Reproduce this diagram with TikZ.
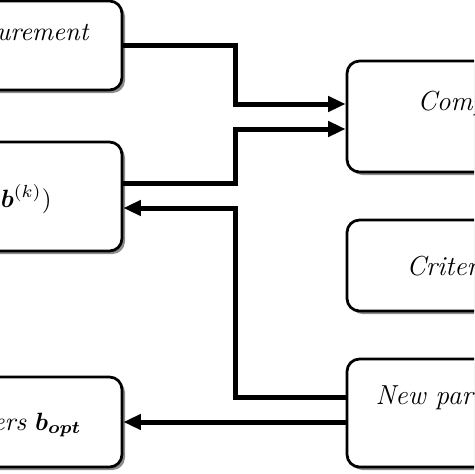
\documentclass[tikz,border=0pt]{standalone}
\usepackage{amsmath,amssymb,bm}
\usetikzlibrary{shadows,arrows.meta}
\tikzset{
  blk/.style={draw, line width=1.1pt, rounded corners=5pt, fill=white,
    drop shadow={shadow xshift=1.2pt, shadow yshift=-1.2pt, fill=black!45, opacity=1},
    inner sep=0pt},
  conn/.style={line width=2pt, -{Triangle[length=7pt,width=6pt]}},
  lbl/.style={inner sep=0pt, font=\fontsize{10.4}{12}\selectfont},
  rlbl/.style={inner sep=0pt, font=\fontsize{11}{13}\selectfont}
}
\begin{document}
\begin{tikzpicture}[x=0.4pt,y=-0.4pt]
\useasboundingbox (0,0) rectangle (474,474);
\clip (0,0) rectangle (474,474);
% boxes
\node[blk, minimum width=80.8pt, minimum height=35.6pt] (box1) at (21,45.5) {};
\node[blk, minimum width=80.8pt, minimum height=43.6pt] (box2) at (21,196.5) {};
\node[blk, minimum width=80.8pt, minimum height=36pt] (box3) at (21,422) {};
\node[blk, minimum width=101.2pt, minimum height=44.4pt] (comp) at (473.5,116.5) {};
\node[blk, minimum width=101.2pt, minimum height=36.4pt] (crit) at (473.5,265.5) {};
\node[blk, minimum width=101.2pt, minimum height=43.2pt] (newp) at (473.5,413) {};
% labels
\node[lbl, anchor=base east] (t1) at (90,40) {\textit{urement}};
\node[lbl, anchor=base east] (t2) at (52,207) {$\bm{b}^{(k)})$};
\node[lbl, anchor=base east] (t3) at (82,430) {\textit{ers} $\bm{b}_{\bm{opt}}$};
\node[rlbl, anchor=base west] (t4) at (417,110) {\textit{Comp}};
\node[rlbl, anchor=base west] (t5) at (406,275) {\textit{Criter}};
\node[rlbl, anchor=base west] (t6) at (375,404) {\textit{New par}};
% connectors
\coordinate (busx) at (235,0);
\draw[conn] (box1.east) -- (box1.east -| busx) |- ([yshift=5pt]comp.west);
\draw[conn] ([yshift=5.4pt]box2.east) -- ([yshift=5.4pt]box2.east -| busx) |- ([yshift=-5pt]comp.west);
\draw[conn] ([yshift=6.4pt]newp.west) -- ([yshift=6.4pt]newp.west -| busx) |- ([yshift=-4.6pt]box2.east);
\draw[conn] (newp.west |- box3.east) -- (box3.east);
\end{tikzpicture}
\end{document}
